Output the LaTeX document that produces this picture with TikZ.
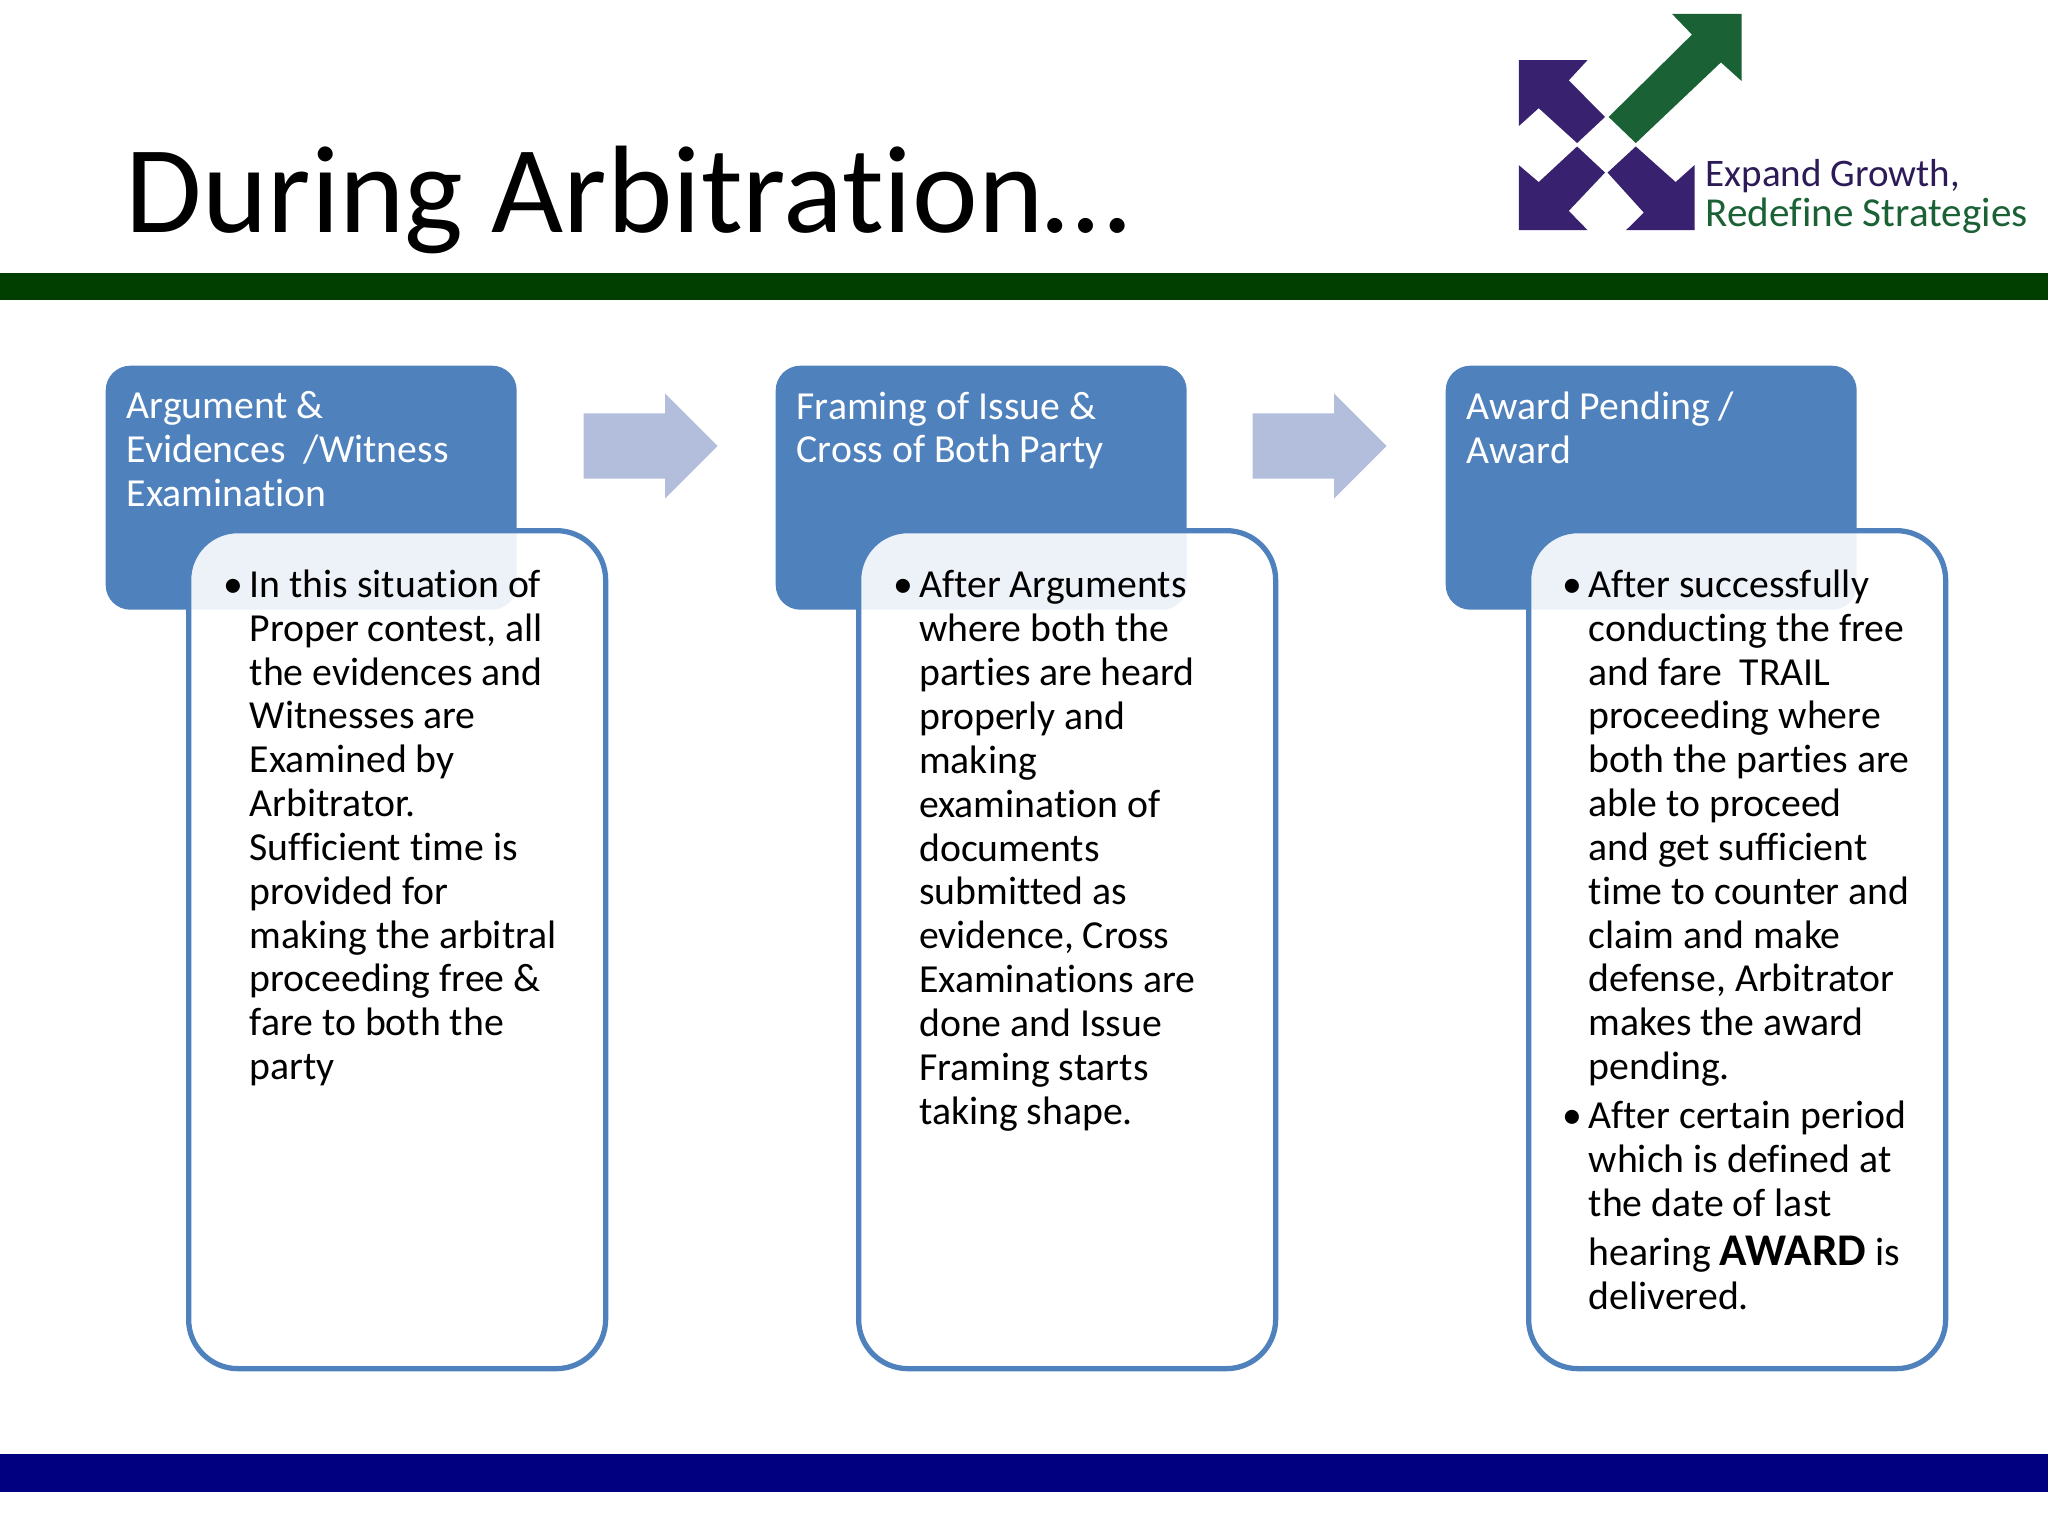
\documentclass[tikz,border=0pt]{standalone}
\usepackage{fontspec}
\setmainfont{Carlito}[Ligatures=NoCommon]
\usetikzlibrary{positioning, shapes.arrows}
\definecolor{headblue}{HTML}{4F81BD}
\definecolor{arrowblue}{HTML}{B2BEDC}
\definecolor{bargreen}{HTML}{003F00}
\definecolor{barnavy}{HTML}{000080}
\definecolor{logogreen}{HTML}{1A6135}
\definecolor{logopurple}{HTML}{38216E}
\newcommand{\bul}{\llap{\textbullet\hspace{1.8pt}}}
\tikzset{
    headbox/.style={fill=headblue, draw=none, rounded corners=7pt, anchor=north west,
        minimum width=411*0.01cm, minimum height=244*0.01cm, inner sep=0pt},
    bodybox/.style={fill=white, fill opacity=0.9, draw=headblue, line width=1.5pt, rounded corners=14pt, anchor=north west,
        minimum width=417*0.01cm, minimum height=838*0.01cm, inner sep=0pt},
    headtext/.style={text=white, anchor=north west, align=left, inner sep=0pt,
        font=\fontsize{11.3}{12.47}\selectfont},
    bodytext/.style={text=black, anchor=north west, align=left, inner sep=0pt,
        font=\fontsize{11.3}{12.47}\selectfont},
    flowarrow/.style={single arrow, fill=arrowblue, draw=none, anchor=west, inner xsep=0pt, inner ysep=32*0.01cm,
        minimum width=104*0.01cm, minimum height=134*0.01cm,
        single arrow head extend=20*0.01cm, single arrow head indent=0pt},
    logotext/.style={anchor=base west, inner sep=0pt}
}
\begin{document}
\begin{tikzpicture}[x=0.01cm, y=-0.01cm]
    \useasboundingbox (0,0) rectangle (2048,1536);
    % bars
    \fill[bargreen] (0,273) rectangle (2048,300);
    \fill[barnavy] (0,1454) rectangle (2048,1492);
    \node[anchor=base west, inner sep=0pt, font=\fontsize{35.4}{40}\selectfont] (title) at (125,232) {During Arbitration\ldots};
    % logo
    \begin{scope}[shift={(1480,-1)}, xscale=0.3623, yscale=0.339]
    \fill[logogreen] (530,44) -- (722,44) -- (722,242) -- (665,187) -- (430,425) -- (355,348) -- (585,105) -- cycle;
    \fill[logopurple] (107,180) -- (297,180) -- (245,240) -- (345,348) -- (268,425) -- (162,322) -- (107,375) -- cycle;
    \fill[logopurple] (107,490) -- (162,540) -- (268,435) -- (345,512) -- (245,625) -- (297,682) -- (107,682) -- cycle;
    \fill[logopurple] (430,435) -- (540,540) -- (592,490) -- (592,682) -- (403,682) -- (452,630) -- (352,512) -- cycle;
    \end{scope}
    \node[logotext, text=logopurple!80!black, font=\fontsize{11.1}{12}\selectfont] (logoa) at (1705,186) {Expand Growth,};
    \node[logotext, text=logogreen, font=\fontsize{11.7}{12}\selectfont] (logob) at (1705,226) {Redefine Strategies};
    % first column
    \node[headbox] (head1) at (105,365) {};
    \node[bodybox] (body1) at (186,528) {};
    \node[headtext, below right=26*0.01cm and 21*0.01cm of head1.north west, anchor=north west] (headtext1) {Argument \&\\Evidences\ \ /Witness\\Examination};
    \node[bodytext] (bodytext1) at (249,569) {\bul In this situation of\\Proper contest, all\\the evidences and\\Witnesses are\\Examined by\\Arbitrator.\\Sufficient time is\\provided for\\making the arbitral\\proceeding free \&\\fare to both the\\party};
    % second column
    \node[headbox] (head2) at (775,365) {};
    \node[bodybox] (body2) at (856,528) {};
    \node[headtext, below right=26*0.01cm and 21*0.01cm of head2.north west, anchor=north west] (headtext2) {Framing of Issue \&\\Cross of Both Party};
    \node[bodytext] (bodytext2) at (918.5,570) {\bul After Arguments\\where both the\\parties are heard\\properly and\\making\\examination of\\documents\\submitted as\\evidence, Cross\\Examinations are\\done and Issue\\Framing starts\\taking shape.};
    % third column
    \node[headbox] (head3) at (1445,365) {};
    \node[bodybox] (body3) at (1526,528) {};
    \node[headtext, below right=26*0.01cm and 21*0.01cm of head3.north west, anchor=north west] (headtext3) {Award Pending /\\Award};
    \node[bodytext] (bodytext3) at (1588,569) {\bul After successfully\\conducting the free\\and fare\ \ TRAIL\\proceeding where\\both the parties are\\able to proceed\\and get sufficient\\time to counter and\\claim and make\\defense, Arbitrator\\makes the award\\pending.\\[1.5pt]\bul After certain period\\which is defined at\\the date of last\\[1.5pt]hearing {\fontsize{12.9}{12.47}\selectfont\textbf{AWARD}} is\\delivered.};
    % arrows
    \node[flowarrow] (flow1) at (583,446) {};
    \node[flowarrow] (flow2) at (1252,446) {};
\end{tikzpicture}
\end{document}
